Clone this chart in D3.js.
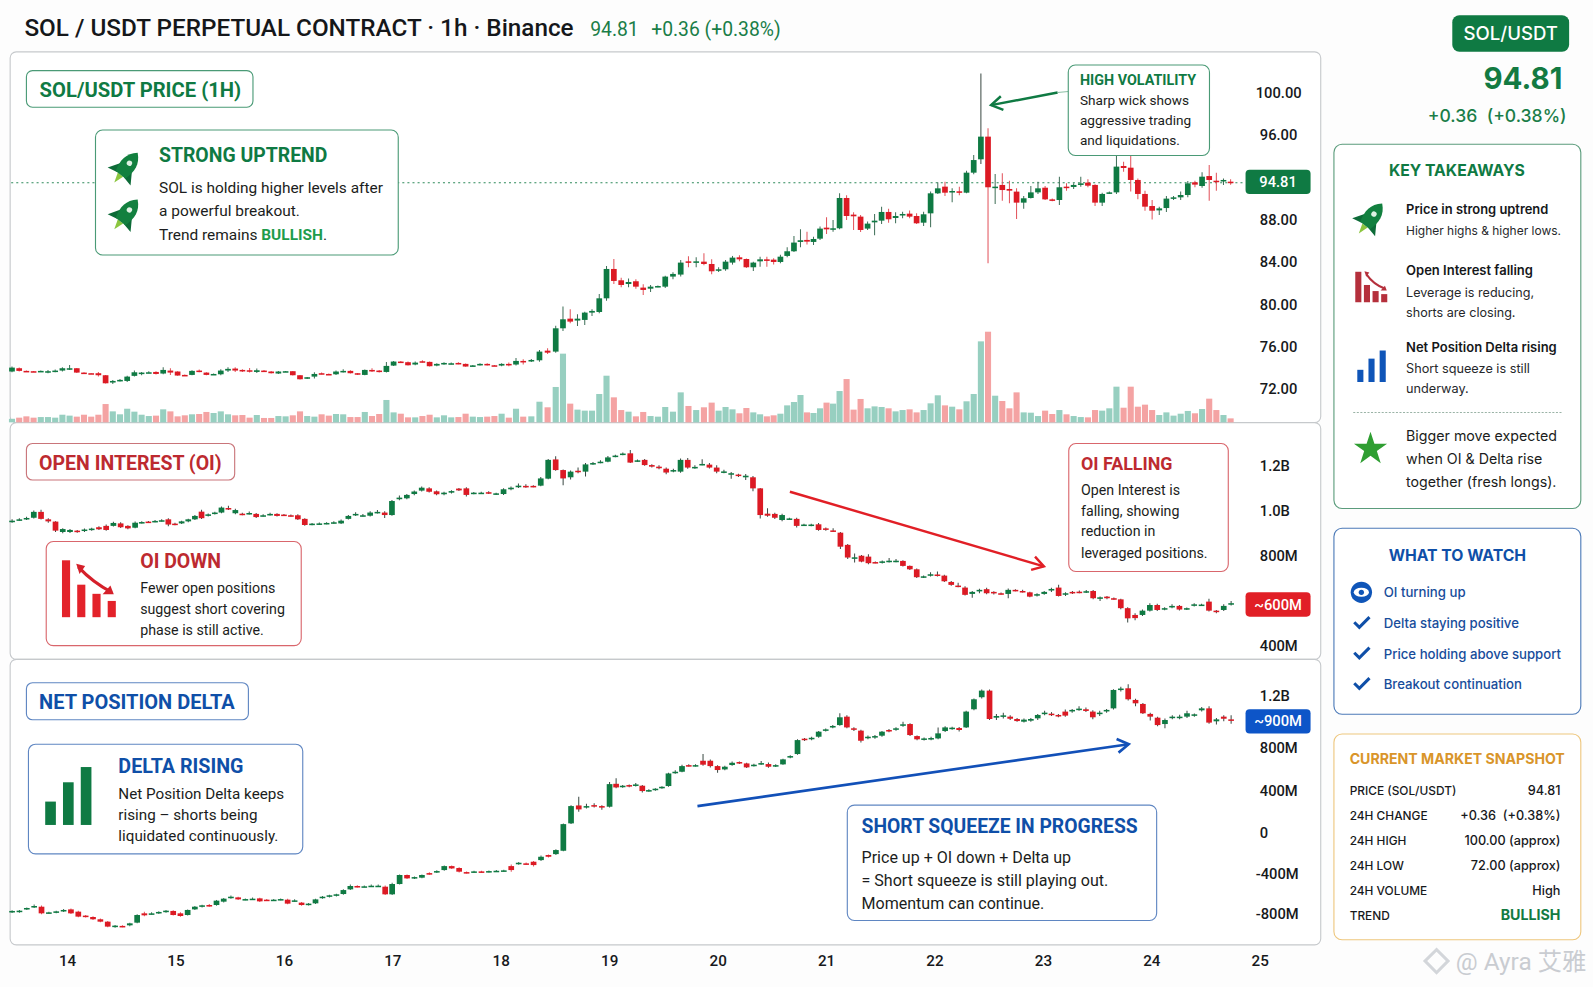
<!DOCTYPE html>
<html>
<head>
<meta charset="utf-8">
<script src="https://cdn.jsdelivr.net/npm/d3@7"></script>
<style>
  html, body { margin: 0; background: #fdfdfd; }
  svg { display: block; font-family: Roboto, sans-serif; }
  .side { font-family: Inter, Roboto, sans-serif; }
</style>
</head>
<body>
<div id="chart"></div>
<script>
// candles are [open, close, high, low]
const priceCandles = [
[73.66,74.03,74.13,73.59],[73.97,73.72,74.03,73.66],[73.72,73.66,73.75,73.62],[73.69,73.66,73.72,73.62],[73.69,73.72,73.75,73.66],[73.59,73.69,73.81,73.5],[73.66,73.75,73.85,73.59],[73.75,73.97,74.06,73.66],[73.88,73.97,74.28,73.81],[73.97,73.56,74,73.53],
[73.56,73.5,73.6,73.47],[73.5,73.47,73.53,73.44],[73.5,73.31,73.62,73.18],[73.31,72.55,73.34,72.52],[72.62,72.77,72.87,72.49],[72.77,72.87,72.96,72.71],[72.77,73.18,73.25,72.68],[73.25,73.59,73.75,73.18],[73.5,73.56,73.62,73.31],[73.56,73.59,73.69,73.5],
[73.62,73.43,73.69,73.37],[73.47,73.81,74.06,73.4],[73.75,73.56,73.97,73.34],[73.66,73.28,73.69,73.25],[73.34,73.31,73.37,73.28],[73.34,73.72,73.78,73.31],[73.75,73.62,73.85,73.59],[73.56,73.34,73.6,73.31],[73.37,73.43,73.47,73.34],[73.4,73.75,73.88,73.31],
[73.75,73.91,74.06,73.62],[73.94,73.75,74.06,73.62],[73.81,73.69,73.88,73.62],[73.78,73.66,74,73.56],[73.62,73.78,73.94,73.53],[73.75,73.66,73.81,73.62],[73.66,73.5,73.72,73.47],[73.47,73.66,73.72,73.43],[73.66,73.69,73.72,73.62],[73.69,73.31,73.72,73.28],
[73.31,72.93,73.34,72.9],[73,73.12,73.15,72.96],[73.18,73.43,73.59,73],[73.5,73.43,73.56,73.4],[73.43,73.4,73.47,73.37],[73.4,73.66,73.75,73.34],[73.62,73.72,73.88,73.56],[73.72,73.5,73.78,73.47],[73.5,73.37,73.53,73.34],[73.34,73.81,73.85,73.31],
[73.81,73.75,73.97,73.62],[73.75,73.62,73.81,73.56],[73.62,74.19,74.57,73.56],[74.22,74.6,74.66,74.19],[74.6,74.5,74.66,74.47],[74.54,74.25,74.6,74.22],[74.32,74.5,74.6,74.25],[74.63,74.54,74.72,74.5],[74.57,74.16,74.6,74.13],[74.22,74.38,74.44,74.16],
[74.35,74.47,74.53,74.3],[74.38,74.44,74.5,74.35],[74.47,74.38,74.53,74.35],[74.38,74.13,74.41,74.1],[74.2,74.24,74.27,74.16],[74.25,74.38,74.44,74.22],[74.38,74.25,74.44,74.22],[74.25,74.22,74.28,74.18],[74.22,74.38,74.44,74.16],[74.38,74.25,74.5,74.16],
[74.32,74.66,74.94,74.22],[74.66,74.57,74.82,74.32],[74.63,74.75,74.85,74.57],[74.72,75.54,75.7,74.59],[75.63,75.44,75.85,75.32],[75.54,77.74,77.99,75.44],[77.74,78.59,79.79,77.49],[78.65,78.37,79.53,78.21],[78.47,78.65,79.06,77.96],[78.53,79.22,79.31,78.06],
[79.22,79.38,79.53,78.9],[79.28,80.57,80.98,79.16],[80.57,83.34,83.62,80.35],[83.34,82.21,84.28,81.92],[82.27,81.83,82.52,81.61],[81.92,82.11,82.43,81.61],[82.18,81.67,82.37,81.48],[81.58,81.36,81.89,80.89],[81.48,81.67,81.83,81.17],[81.67,81.73,81.79,81.61],
[81.67,82.62,82.71,81.55],[82.62,82.87,83.03,82.36],[82.81,83.94,84.19,82.62],[84.06,83.94,84.54,83.5],[83.94,84.06,84.44,83.5],[84.03,83.81,84.82,83.69],[83.81,83.12,84.25,82.84],[83.21,83.31,83.5,83.06],[83.31,84.03,84.19,83.18],[83.94,84.41,84.57,83.75],
[84.44,84.25,84.63,84.06],[84.28,83.5,84.32,83.43],[83.5,83.94,84.03,83.15],[84.06,84.25,84.5,83.56],[84.25,84.1,84.5,83.56],[84.22,84,84.35,83.75],[84,84.5,84.69,83.87],[84.57,85.01,85.39,84.44],[85.01,85.83,86.45,84.94],[85.89,86.05,87.08,85.39],
[86.08,85.92,86.86,85.64],[85.89,86.17,86.39,85.6],[86.2,87.15,87.34,86.08],[87.24,87.08,88.22,86.64],[87.08,87.18,87.96,86.86],[87.18,90.04,90.48,87.08],[90.04,88.34,90.29,87.96],[88.47,88.31,88.69,87.02],[88.28,87.02,88.44,86.83],[87.15,87.62,87.81,87.02],
[87.74,87.9,88.53,86.52],[87.9,88.72,89.22,87.59],[88.72,88.03,89.03,87.71],[88.15,88.34,88.69,87.65],[88.41,88.53,88.75,88.12],[88.56,88.28,88.85,88.12],[88.34,87.65,88.59,87.59],[87.71,88.5,88.75,87.4],[88.59,90.48,90.64,87.27],[90.48,90.95,91.52,90.42],
[91.11,90.54,91.58,90.23],[90.6,90.7,90.95,89.63],[90.67,90.54,91.11,90.29],[90.54,92.43,92.62,90.48],[92.43,93.62,94.1,92.27],[93.69,95.83,101.8,93.25],[95.83,91.05,96.61,83.87],[91.01,91.11,92.3,89.47],[91.27,90.79,92.37,89.79],[90.89,90.73,91.67,89.54],
[90.64,89.6,90.95,88.06],[89.6,90.01,90.23,89.03],[90.04,90.57,91.17,89.98],[90.57,90.95,91.58,90.42],[91.01,89.91,91.17,89.85],[89.91,89.79,89.98,89.72],[89.85,91.05,92.05,89.38],[91.11,90.98,91.42,90.73],[91.08,91.27,91.42,90.89],[91.27,91.42,92.05,91.11],
[91.49,91.2,91.8,91.05],[91.27,89.6,91.33,89.28],[89.6,90.42,90.54,89.28],[90.48,90.57,90.64,90.42],[90.57,93,94.1,90.42],[93.06,92.87,93.47,92.52],[92.9,91.74,94.1,90.64],[91.74,90.42,91.89,89.91],[90.42,89.22,90.73,88.84],[89.28,88.84,89.85,88.02],
[88.87,89.06,89.22,88.43],[89.09,89.98,90.23,88.72],[89.98,90.1,90.23,89.85],[90.1,90.32,90.64,89.85],[90.32,91.42,91.64,90.1],[91.52,91.3,91.67,91.05],[91.17,92.05,92.46,91.01],[92.11,91.74,93.15,89.79],[91.67,91.55,92.43,90.73],[91.64,91.74,91.89,91.27],
[91.58,91.49,91.8,91.3]
];

const volumes = [3.5,4.6,5.9,4.6,5.2,5.2,4.6,7.5,6.6,5.6,7.5,5.6,7.5,18,10.8,7.9,13.4,10.5,7.5,6.2,6.6,12.8,10.8,5.9,6.9,7.9,8.2,10.2,9.2,10.8,7.9,6.9,7.2,4.6,7.2,4.3,4.3,6.2,5.9,6.9,10.8,6.2,5.6,7.9,6.6,8.2,7.9,5.2,5.2,10.2,6.2,8.2,22,9.8,8.5,4.9,4.9,6.2,7.5,4.9,6.9,4.9,5.2,8.5,5.6,5.2,5.6,6.2,8.5,4.6,13.4,5.6,
5.9,20.3,14.8,34.8,67.6,18.4,12.5,11.5,11.5,27.9,45.9,24.6,12.1,10.5,5.9,10.2,6.2,5.6,15.1,10.5,29.5,16.1,12.1,14.8,19.4,11.5,15.1,12.8,8.9,14.1,9.8,7.9,5.9,6.9,8.5,16.7,20,26.9,9.8,9.2,13.8,19.4,18.4,30.8,42.6,12.5,23,13.8,15.7,15.1,13.8,10.8,
12.1,12.8,9.8,12.1,18.7,26.6,16.7,15.4,12.8,20.7,27.9,79.7,89.2,26.2,21,13.8,29.5,9.8,9.5,6.2,11.5,8.2,12.1,7.9,6.2,5.2,4.9,12.1,11.5,13.8,35.1,14.4,35.1,15.4,17.4,12.1,7.2,9.8,6.6,8.5,11.2,8.9,13.1,23.3,12.1,7.2,3.9];

const oiCandles = [
[952,955,961,946],[958,961,966,955],[961,967,972,958],[968,994,1000,965],[994,963,1003,960],[961,952,966,946],[951,911,953,905],[905,918,921,899],[905,914,918,901],[911,907,914,902],
[910,916,920,905],[914,920,924,910],[926,917,930,914],[932,914,938,911],[932,945,950,929],[943,926,948,923],[932,921,935,917],[924,946,951,921],[946,949,952,943],[951,948,954,945],
[951,954,958,948],[954,957,961,951],[961,938,966,930],[942,939,946,935],[943,952,955,940],[952,961,964,948],[961,976,980,958],[995,966,1003,963],[977,983,987,974],[986,991,995,982],
[991,1013,1018,988],[1011,1005,1021,1002],[988,1002,1008,984],[986,983,990,979],[986,989,996,982],[985,971,989,967],[976,979,983,973],[982,985,990,978],[985,976,988,973],[982,979,985,976],
[979,976,982,973],[979,961,983,958],[963,936,966,933],[939,942,945,935],[940,943,947,937],[942,945,948,939],[945,948,952,942],[943,955,960,940],[963,976,980,960],[979,985,992,976],
[976,979,985,973],[977,991,997,973],[991,994,1002,987],[991,980,997,967],[980,1042,1046,977],[1050,1057,1066,1045],[1054,1069,1073,1050],[1073,1084,1088,1068],[1088,1101,1106,1084],[1098,1083,1103,1080],
[1085,1072,1088,1068],[1072,1079,1083,1068],[1079,1086,1090,1075],[1097,1089,1100,1086],[1098,1069,1103,1062],[1076,1079,1082,1072],[1078,1079,1083,1075],[1081,1076,1085,1073],[1073,1076,1079,1069],[1073,1094,1098,1069],
[1094,1101,1106,1090],[1103,1110,1120,1100],[1109,1104,1116,1101],[1109,1106,1112,1103],[1110,1142,1148,1107],[1141,1224,1228,1138],[1226,1179,1240,1176],[1179,1142,1182,1112],[1147,1172,1177,1137],[1176,1170,1190,1165],
[1172,1204,1210,1150],[1207,1210,1215,1203],[1213,1216,1222,1209],[1216,1235,1241,1213],[1240,1243,1247,1236],[1249,1252,1257,1245],[1253,1212,1268,1210],[1219,1222,1226,1216],[1224,1201,1228,1198],[1201,1194,1205,1190],
[1194,1187,1200,1183],[1185,1168,1190,1160],[1173,1179,1185,1169],[1172,1224,1230,1167],[1224,1190,1232,1185],[1190,1193,1200,1185],[1203,1206,1227,1200],[1203,1190,1210,1186],[1190,1172,1200,1165],[1170,1173,1180,1165],
[1162,1165,1170,1140],[1159,1154,1163,1148],[1147,1154,1162,1135],[1147,1098,1153,1085],[1098,980,1100,965],[986,977,1010,972],[985,968,990,962],[958,980,986,952],[962,965,968,959],[963,932,968,925],
[935,938,942,931],[935,938,942,930],[939,914,945,911],[921,915,925,911],[912,907,921,905],[902,840,905,830],[848,792,852,785],[789,793,810,770],[800,774,803,771],[796,767,806,762],
[772,770,775,767],[771,775,779,766],[774,778,790,770],[775,778,785,771],[777,755,780,752],[755,740,757,737],[740,705,743,702],[705,709,713,701],[713,718,727,708],[717,712,730,708],
[712,687,716,684],[684,671,688,667],[668,663,680,660],[659,627,665,624],[631,640,644,614],[643,649,654,634],[652,634,658,630],[640,637,643,628],[634,631,637,628],[631,649,655,612],
[649,646,652,643],[644,640,650,637],[638,619,641,616],[624,630,634,620],[631,640,644,627],[646,653,658,640],[659,622,672,620],[628,634,638,622],[640,635,644,631],[641,638,646,634],
[640,643,648,635],[644,612,648,608],[612,616,620,600],[619,612,622,608],[612,609,615,605],[607,568,610,563],[568,523,572,505],[538,524,545,515],[538,557,562,533],[557,582,590,553],
[582,560,588,556],[563,568,572,559],[572,578,585,568],[578,562,582,558],[563,568,571,560],[579,585,590,575],[581,584,588,578],[597,557,610,553],[557,554,560,545],[560,578,585,555],
[584,590,600,580]
];

const deltaCandles = [
[-790,-776,-770,-797],[-786,-773,-767,-793],[-760,-746,-740,-766],[-739,-726,-710,-746],[-733,-800,-720,-810],[-796,-790,-783,-803],[-793,-780,-773,-800],[-780,-766,-756,-786],[-760,-800,-750,-806],[-783,-833,-773,-840],
[-823,-837,-816,-843],[-837,-860,-830,-866],[-860,-884,-853,-890],[-884,-934,-877,-940],[-938,-924,-917,-945],[-927,-934,-920,-940],[-921,-901,-895,-930],[-894,-817,-810,-900],[-800,-820,-785,-830],[-807,-800,-790,-812],
[-800,-786,-780,-806],[-786,-773,-767,-793],[-776,-817,-770,-823],[-800,-827,-790,-835],[-817,-766,-760,-823],[-760,-733,-727,-766],[-733,-719,-713,-740],[-716,-726,-706,-733],[-716,-672,-665,-723],[-682,-652,-645,-690],
[-645,-632,-620,-652],[-639,-659,-632,-666],[-662,-656,-650,-669],[-659,-652,-640,-666],[-649,-679,-642,-686],[-662,-669,-656,-675],[-669,-662,-656,-675],[-662,-656,-650,-669],[-662,-702,-652,-709],[-676,-669,-659,-682],
[-692,-716,-686,-723],[-712,-702,-696,-720],[-699,-659,-652,-706],[-645,-632,-626,-652],[-632,-618,-612,-639],[-622,-608,-602,-629],[-605,-565,-558,-612],[-558,-524,-510,-565],[-524,-531,-517,-538],[-531,-527,-520,-537],
[-527,-521,-510,-534],[-527,-521,-510,-534],[-531,-608,-520,-614],[-608,-504,-490,-614],[-504,-413,-407,-510],[-413,-447,-407,-454],[-447,-434,-427,-453],[-440,-413,-407,-447],[-394,-403,-385,-410],[-387,-374,-367,-394],
[-364,-325,-318,-371],[-325,-348,-318,-354],[-344,-380,-337,-387],[-384,-390,-377,-397],[-384,-377,-370,-390],[-377,-384,-370,-390],[-380,-374,-368,-387],[-377,-371,-364,-384],[-374,-367,-360,-380],[-325,-364,-310,-380],
[-305,-292,-285,-312],[-298,-305,-290,-312],[-282,-315,-275,-328],[-266,-233,-220,-275],[-216,-233,-210,-240],[-207,-167,-160,-215],[-174,84,90,-180],[91,253,262,85],[259,222,341,200],[241,253,275,230],
[262,250,280,240],[253,241,262,218],[247,459,478,240],[462,428,515,420],[431,444,450,425],[450,437,456,430],[444,456,470,437],[444,394,450,380],[397,403,410,388],[403,416,420,397],
[422,434,440,416],[441,559,565,434],[562,575,590,556],[575,628,640,570],[637,631,645,625],[631,637,645,625],[678,641,741,631],[678,628,690,615],[628,591,635,565],[597,622,630,590],
[638,659,670,630],[666,653,672,648],[653,616,660,610],[631,641,650,625],[647,656,675,640],[647,622,662,612],[628,637,645,620],[644,691,697,640],[709,722,730,702],[741,859,865,735],
[870,859,875,852],[867,877,885,858],[885,924,930,878],[932,942,948,925],[957,968,975,950],[975,1035,1066,970],[1040,957,1050,950],[950,939,958,930],[932,854,938,840],[875,885,895,865],
[880,890,898,870],[893,924,930,885],[937,927,945,920],[939,950,958,932],[970,981,1000,962],[983,898,990,890],[890,865,895,858],[862,872,880,855],[865,875,885,858],[872,911,957,865],
[929,957,965,922],[944,955,962,938],[952,937,960,925],[957,1079,1085,952],[1097,1174,1180,1090],[1190,1241,1250,1180],[1241,1022,1250,1015],[1032,1045,1060,1015],[1040,1050,1070,1025],[1040,1024,1050,1015],
[1022,1006,1030,1000],[1001,1017,1025,995],[1009,1022,1030,1000],[1027,1053,1060,1015],[1061,1071,1085,1050],[1063,1053,1075,1045],[1053,1043,1060,1035],[1079,1048,1095,1040],[1081,1092,1100,1070],[1092,1102,1120,1085],
[1097,1084,1110,1075],[1079,1035,1090,1020],[1061,1071,1085,1045],[1081,1092,1100,1070],[1104,1246,1252,1095],[1246,1257,1270,1235],[1259,1174,1290,1165],[1169,1143,1178,1120],[1138,1066,1145,1060],[1061,1040,1070,1010],
[1032,975,1040,965],[983,1014,1025,950],[1030,1040,1050,1020],[1030,1040,1055,1020],[1040,1066,1085,1030],[1048,1058,1065,1040],[1089,1104,1115,1080],[1104,994,1120,985],[1004,1019,1030,980],[1040,1024,1050,1005],
[1019,1009,1050,985]
];

const days = [14, 15, 16, 17, 18, 19, 20, 21, 22, 23, 24, 25];
const priceTicks = [100, 96, 88, 84, 80, 76, 72];
const oiTicks = [1200, 1000, 800, 400];
const deltaTicks = [1200, 800, 400, 0, -400, -800];
const priceLine = 91.47;

const snapshotLabels = ['PRICE (SOL/USDT)', '24H CHANGE', '24H HIGH', '24H LOW', '24H VOLUME', 'TREND'];
const snapshotValues = ['94.81', '+0.36  (+0.38%)', '100.00 (approx)', '72.00 (approx)', 'High', 'BULLISH'];
const watchItems = ['OI turning up', 'Delta staying positive', 'Price holding above support', 'Breakout continuation'];

const GREEN = '#0f7a43', RED = '#dc1a24', BLUE = '#0f4fa8', DRED = '#bd2a30';

// drawn in the coordinates the layout was measured in, then stretched to the window
const svg = d3.select('#chart').append('svg')
    .attr('width', 1593).attr('height', 987)
    .attr('viewBox', '0 0 1568 971.5');

// text helper, x/y is the baseline
function label(g, x, y, str, size, color, weight = 400, anchor = 'start') {
    return g.append('text').attr('x', x).attr('y', y)
        .attr('font-size', size).attr('font-weight', weight)
        .attr('fill', color).attr('text-anchor', anchor).text(str);
}

function box(g, x0, y0, x1, y1, color, r = 7, fill = '#fff') {
    return g.append('rect').attr('x', x0).attr('y', y0)
        .attr('width', x1 - x0).attr('height', y1 - y0).attr('rx', r)
        .attr('fill', fill).attr('stroke', color).attr('stroke-width', 1.1);
}

function lines(g, x, ys, strs, size, color = '#1b1d20', weight = 400) {
    strs.forEach((s, i) => label(g, x, ys[i], s, size, color, weight));
}

// scales
const dayScale = d3.scaleLinear([14, 25], [66, 1240]);
// the candles are not evenly spaced in the reference, so each panel gets its own piecewise time scale
const xPrice = d3.scaleLinear([0, 71, 75, 82, 90, 96, 102, 108, 115, 128, 135, 170],
    [11.8, 515, 547, 597, 654.8, 700.5, 741.5, 781.5, 826.4, 916, 965.5, 1211.3]);
const xOi = d3.scaleLinear([0, 17, 30, 42, 54, 75, 86, 95, 104, 116, 133, 146, 156, 170],
    [11.9, 133, 218, 300, 385.8, 539.6, 620.4, 684, 748.3, 834.4, 949.9, 1042, 1110, 1211.8]);
const xDelta = d3.scaleLinear([0, 17, 34, 53, 76, 82, 91, 95, 96, 109, 116, 133, 136, 154, 170],
    [11.9, 135, 255.7, 386, 554.5, 600, 658, 684.6, 692, 785, 833.6, 951, 974, 1096, 1211.8]);
const yPrice = d3.scaleLinear([72, 100], [383, 91]);
const yVol = d3.scaleLinear([0, 90], [415.7, 325.7]);
const yOi = d3.scaleLinear([400, 1200], [636, 458]);
const yDelta = d3.scaleLinear([-800, -400, 0, 400, 800, 1200], [899, 860, 820, 778, 736, 685]);

// panels
box(svg, 10, 51, 1300, 416, '#c6c9cc', 6);
box(svg, 10, 416, 1300, 649, '#c6c9cc', 6);
box(svg, 10, 649, 1300, 930, '#c6c9cc', 6);

// price line behind everything
svg.append('line').attr('x1', 11).attr('x2', 1226)
    .attr('y1', yPrice(priceLine)).attr('y2', yPrice(priceLine))
    .attr('stroke', '#2f8a5b').attr('stroke-width', 1).attr('stroke-dasharray', '2 3');

// volume bars
svg.append('g').selectAll('rect').data(volumes).join('rect')
    .attr('x', (d, i) => xPrice(i) - 3)
    .attr('width', 6)
    .attr('y', d => yVol(d))
    .attr('height', d => yVol(0) - yVol(d))
    .attr('fill', (d, i) => priceCandles[i][1] >= priceCandles[i][0] ? '#97cfc0' : '#f4a3a3');

function drawCandles(rows, x, y) {
    const g = svg.append('g');
    const color = d => d[1] >= d[0] ? GREEN : RED;
    g.selectAll('line').data(rows).join('line')
        .attr('x1', (d, i) => x(i)).attr('x2', (d, i) => x(i))
        .attr('y1', d => y(d[2])).attr('y2', d => y(d[3]))
        .attr('stroke', d => d[2] > 100 ? '#3b4a44' : d[1] >= d[0] ? '#3f6f58' : '#e2525a')
        .attr('stroke-width', 1);
    g.selectAll('rect').data(rows).join('rect')
        .attr('x', (d, i) => x(i) - 2.8)
        .attr('width', 5.6)
        .attr('y', d => y(Math.max(d[0], d[1])))
        .attr('height', d => Math.max(1.5, Math.abs(y(d[0]) - y(d[1]))))
        .attr('fill', color);
}
drawCandles(priceCandles, xPrice, yPrice);
drawCandles(oiCandles, xOi, yOi);
drawCandles(deltaCandles, xDelta, yDelta);

// axes, labels start at a common left edge except the widest ones
function rightAxis(scale, ticks, fmt) {
    const g = svg.append('g').attr('transform', 'translate(1240,0)')
        .call(d3.axisRight(scale).tickValues(ticks).tickFormat(fmt).tickSize(0).tickPadding(0));
    g.select('.domain').remove();
    g.selectAll('text').attr('text-anchor', 'start')
        .attr('x', d => d === 100 || d < 0 ? -4 : 0)
        .attr('font-family', 'Roboto, sans-serif').attr('font-size', 14.5)
        .attr('font-weight', 500).attr('fill', '#17191c');
}
const fmtBig = v => Math.abs(v) >= 1000 ? (v / 1000).toFixed(1) + 'B' : v === 0 ? '0' : v + 'M';
rightAxis(yPrice, priceTicks, d => d.toFixed(2));
rightAxis(yOi, oiTicks, fmtBig);
rightAxis(yDelta, deltaTicks, fmtBig);

const xAxis = svg.append('g').attr('transform', 'translate(0,940)')
    .call(d3.axisBottom(dayScale).tickValues(days).tickFormat(d => d).tickSize(0).tickPadding(0));
xAxis.select('.domain').remove();
xAxis.selectAll('text').attr('font-family', 'Roboto, sans-serif').attr('font-size', 15)
    .attr('font-weight', 500).attr('fill', '#17191c');

// tags on the axis
function tag(y0, color, str) {
    svg.append('rect').attr('x', 1226).attr('y', y0).attr('width', 64).attr('height', 24).attr('rx', 4).attr('fill', color);
    label(svg, 1258, y0 + 17, str, 14.5, '#fff', 500, 'middle');
}
tag(167, GREEN, '94.81');
tag(583, '#e11f26', '~600M');
tag(698, '#0d55c8', '~900M');

// icons
function rocket(x, y, s = 1.1) {
    const g = svg.append('g').attr('transform', `translate(${x},${y}) rotate(38) scale(${s})`);
    g.append('path').attr('d', 'M-3,8 L0,17 L3,8Z').attr('fill', '#8cc63f');
    g.append('path').attr('d', 'M-6,-1 L-13,10 L-4,8Z M6,-1 L13,10 L4,8Z').attr('fill', '#0d6b38');
    g.append('path').attr('d', 'M0,-17 C8,-10 8.5,-2 5.5,8 L-5.5,8 C-8.5,-2 -8,-10 0,-17Z').attr('fill', '#12803f');
    g.append('circle').attr('cy', -5).attr('r', 2.4).attr('fill', '#dff1e3');
}
function barsIcon(x, bottom, widths, gap, heights, color) {
    heights.forEach((h, i) => svg.append('rect')
        .attr('x', x + i * (widths + gap)).attr('y', bottom - h)
        .attr('width', widths).attr('height', h).attr('fill', color));
}
function arrow(g, x0, y0, x1, y1, color, width, head = 13) {
    const a = Math.atan2(y1 - y0, x1 - x0);
    const pt = d => [x1 - head * Math.cos(a + d), y1 - head * Math.sin(a + d)];
    g.append('line').attr('x1', x0).attr('y1', y0).attr('x2', x1).attr('y2', y1)
        .attr('stroke', color).attr('stroke-width', width);
    g.append('polyline').attr('points', [pt(0.55), [x1, y1], pt(-0.55)].join(' '))
        .attr('fill', 'none').attr('stroke', color).attr('stroke-width', width);
}
function downArrow(x0, y0, x1, y1, color, width, head) {
    // double ended curve arrow of the OI icons
    svg.append('path').attr('d', `M${x0},${y0} Q${(x0 + x1) / 2 - 2},${(y0 + y1) / 2 + 3} ${x1},${y1}`)
        .attr('fill', 'none').attr('stroke', color).attr('stroke-width', width);
    svg.append('path').attr('d', `M${x1 + 2},${y1 + 2} l${-head},0 l${head * 0.7},${-head * 0.8}Z`).attr('fill', color);
    svg.append('path').attr('d', `M${x0 - 2},${y0 - 3} l${head * 0.8},${head * 0.2} l${-head * 0.5},${head * 0.7}Z`).attr('fill', color);
}

// header
label(svg, 24, 35, 'SOL / USDT PERPETUAL CONTRACT · 1h · Binance', 23.9, '#15171a', 500);
label(svg, 581, 35, '94.81', 19, '#1a7d48');
label(svg, 641, 35, '+0.36 (+0.38%)', 19, '#1a7d48');

// price panel notes
box(svg, 26, 69.5, 249, 105.5, '#4a9a76', 6);
label(svg, 39, 95, 'SOL/USDT PRICE (1H)', 19.9, GREEN, 700);
box(svg, 94, 128, 392, 251, '#4a9a76');
rocket(124, 165); rocket(124, 211);
label(svg, 156.5, 159.5, 'STRONG UPTREND', 19.1, GREEN, 700);
lines(svg, 156.5, [189.5, 212.5], ['SOL is holding higher levels after', 'a powerful breakout.'], 15.2);
const trendLine = label(svg, 156.5, 236, 'Trend remains ', 15.2, '#1b1d20');
trendLine.append('tspan').attr('fill', '#1e9c4c').attr('font-weight', 700).text('BULLISH');
trendLine.append('tspan').text('.');

arrow(svg, 1041, 91, 975.5, 103.5, GREEN, 2.4);
svg.append('line').attr('x1', 1041).attr('y1', 91).attr('x2', 1051.5).attr('y2', 90).attr('stroke', '#8bbfa4').attr('stroke-width', 1);
box(svg, 1051.5, 64, 1190.5, 153, '#4a9a76');
label(svg, 1063, 84, 'HIGH VOLATILITY', 14.1, GREEN, 700);
lines(svg, 1063, [103, 123, 143], ['Sharp wick shows', 'aggressive trading', 'and liquidations.'], 13.4);

// OI panel notes
box(svg, 26, 436.5, 231, 472.5, '#c9757a', 6);
label(svg, 38.5, 462.5, 'OPEN INTEREST (OI)', 19.2, DRED, 700);
box(svg, 45.5, 533, 296.5, 635.5, '#d9666c');
barsIcon(61, 607.5, 8, 7, [56, 32, 23, 16], '#e3222a');
downArrow(77, 558, 110, 583, '#d5202a', 3, 11);
label(svg, 138, 559.5, 'OI DOWN', 19.2, DRED, 700);
lines(svg, 138, [584, 604.5, 625], ['Fewer open positions', 'suggest short covering', 'phase is still active.'], 14);

arrow(svg, 777.5, 484, 1027.5, 557.5, '#e11f26', 2.4);
box(svg, 1052, 436.5, 1209, 562.5, '#d9666c');
label(svg, 1064, 462.5, 'OI FALLING', 17.6, DRED, 700);
lines(svg, 1064, [487, 508, 528, 549], ['Open Interest is', 'falling, showing', 'reduction in', 'leveraged positions.'], 14);

// delta panel notes
box(svg, 26, 672, 244.5, 708.5, '#5f86c2', 6);
label(svg, 38.5, 697.5, 'NET POSITION DELTA', 19.7, BLUE, 700);
box(svg, 28, 732.5, 298, 840.5, '#5f86c2');
barsIcon(44.5, 812, 10.5, 7, [23, 42, 57], GREEN);
label(svg, 116.5, 760.5, 'DELTA RISING', 19.4, BLUE, 700);
lines(svg, 116.5, [786, 807, 828], ['Net Position Delta keeps', 'rising – shorts being', 'liquidated continuously.'], 15);

arrow(svg, 686.5, 793.5, 1111, 732.5, '#1250b8', 2.6);
box(svg, 834, 792.5, 1138.5, 906, '#5f86c2');
label(svg, 848, 820, 'SHORT SQUEEZE IN PROGRESS', 19, BLUE, 700);
lines(svg, 848, [849, 872, 895], ['Price up + OI down + Delta up', '= Short squeeze is still playing out.', 'Momentum can continue.'], 15.8);

// right column
const side = svg.append('g').attr('class', 'side');
side.append('rect').attr('x', 1429.5).attr('y', 15).attr('width', 115).attr('height', 36).attr('rx', 7).attr('fill', GREEN);
label(side, 1487, 39, 'SOL/USDT', 18.3, '#fff', 500, 'middle');
label(side, 1499, 88, '94.81', 29, '#137a42', 700, 'middle');
label(side, 1542, 120, '+0.36  (+0.38%)', 17.3, '#1a7d48', 500, 'end').attr('xml:space', 'preserve');

box(side, 1313, 142, 1556, 500.5, '#5b9c7c', 8);
label(side, 1434, 173, 'KEY TAKEAWAYS', 15.5, GREEN, 700, 'middle');
label(side, 1384, 211, 'Price in strong uptrend', 12.7, '#15171a', 600);
label(side, 1384, 231, 'Higher highs & higher lows.', 11.8, '#26282b');
label(side, 1384, 271, 'Open Interest falling', 12.8, '#15171a', 600);
lines(side, 1384, [292, 312], ['Leverage is reducing,', 'shorts are closing.'], 12.4, '#26282b');
label(side, 1384, 346, 'Net Position Delta rising', 12.8, '#15171a', 600);
lines(side, 1384, [367, 387], ['Short squeeze is still', 'underway.'], 12.5, '#26282b');
side.append('line').attr('x1', 1332).attr('x2', 1537).attr('y1', 406).attr('y2', 406)
    .attr('stroke', '#9ab3a6').attr('stroke-dasharray', '2 1.5');
lines(side, 1384, [434, 456.5, 479], ['Bigger move expected', 'when OI & Delta rise', 'together (fresh longs).'], 14);

rocket(1349, 215);
barsIcon(1334, 297.5, 6, 2.5, [30, 17, 11, 8], '#b5303c');
downArrow(1345, 270, 1363, 284, '#b5303c', 2, 6);
barsIcon(1336, 376, 6, 5, [12, 23, 31], '#0f55b8');
svg.append('path').attr('d', d3.symbol(d3.symbolStar, 330)())
    .attr('transform', 'translate(1349,442)').attr('fill', '#2f9e32');

box(side, 1313, 520, 1556, 703, '#4c7ab8', 8);
label(side, 1434.5, 552, 'WHAT TO WATCH', 15.5, BLUE, 700, 'middle');
const watchY = [588, 618.5, 648.5, 678.5];
watchItems.forEach((s, i) => {
    label(side, 1362, watchY[i], s, 13, '#174d9b', 500);
    if (i === 0) return;
    svg.append('polyline').attr('points', `1333,${watchY[i] - 6} 1338,${watchY[i] - 1} 1348,${watchY[i] - 11}`)
        .attr('fill', 'none').attr('stroke', '#0f4fa8').attr('stroke-width', 3);
});
svg.append('circle').attr('cx', 1340).attr('cy', 583).attr('r', 10.5).attr('fill', '#0f55b8');
svg.append('ellipse').attr('cx', 1340).attr('cy', 583).attr('rx', 7.5).attr('ry', 4.5).attr('fill', '#fff');
svg.append('circle').attr('cx', 1340).attr('cy', 583).attr('r', 2.6).attr('fill', '#0f55b8');

box(side, 1313, 722.5, 1556, 925, '#eec77e', 8);
label(side, 1328.5, 752, 'CURRENT MARKET SNAPSHOT', 13.9, '#d9952a', 700);
const snapY = [782.5, 807, 832, 856.5, 881, 906];
snapshotLabels.forEach((s, i) => {
    label(side, 1328.5, snapY[i], s, 11.7, '#17191c', 500);
    const last = i === snapshotLabels.length - 1;
    label(side, 1536, snapY[i], snapshotValues[i], last ? 14 : 12.5, last ? '#137a42' : '#17191c', last ? 700 : 500, 'end')
        .attr('xml:space', 'preserve');
});

// watermark
svg.append('rect').attr('x', -8).attr('y', -8).attr('width', 16).attr('height', 16)
    .attr('transform', 'translate(1414,946) rotate(45)')
    .attr('fill', 'none').attr('stroke', '#d3d6da').attr('stroke-width', 3);
label(side, 1433, 955, '@ Ayra 艾雅', 24, '#c9ccd1').attr('font-family', 'Roboto, "Noto Sans CJK SC", sans-serif');
</script>
</body>
</html>
